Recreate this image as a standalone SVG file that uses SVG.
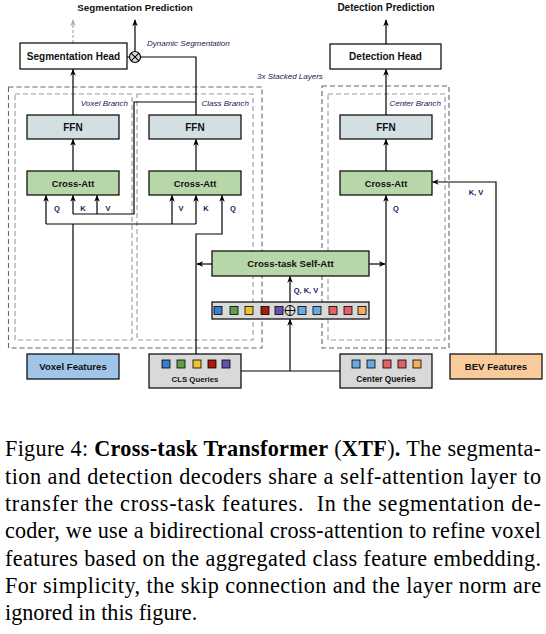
<svg xmlns="http://www.w3.org/2000/svg" width="546" height="634" viewBox="0 0 546 634">
<style>
.box{stroke:#000;stroke-width:1.2}
.ffn{fill:#d3dfe3}
.att{fill:#b7d7a8}
.gray{fill:#d9d9d9}
.t{font-family:"Liberation Sans",Arial,sans-serif;font-weight:bold;fill:#111;text-anchor:middle}
.lbl{font-family:"Liberation Sans",Arial,sans-serif;font-weight:bold;fill:#142060;font-size:7.5px;text-anchor:middle}
.it{font-family:"Liberation Sans",Arial,sans-serif;font-style:italic;fill:#1a2050;font-size:8px}
.c{fill:none;stroke:#000;stroke-width:1.2}
.ar{marker-end:url(#ah)}
.od{fill:none;stroke:#666;stroke-width:1.1;stroke-dasharray:5,3}
.id{fill:none;stroke:#9a9a9a;stroke-width:1.1;stroke-dasharray:5,3}
.cap{font-family:"Liberation Serif","Times New Roman",serif;font-size:22.2px;fill:#000}
.tok{stroke:#000;stroke-width:0.8}
</style>
<defs>
<marker id="ah" viewBox="0 0 10 8" refX="9" refY="4" markerWidth="7" markerHeight="6" markerUnits="userSpaceOnUse" orient="auto">
<path d="M0,0 L10,4 L0,8 L3,4 z" fill="#000"/>
</marker>
<marker id="ahg" viewBox="0 0 10 8" refX="9" refY="4" markerWidth="7" markerHeight="6" markerUnits="userSpaceOnUse" orient="auto">
<path d="M0,0 L10,4 L0,8 L3,4 z" fill="#aaa"/>
</marker>
</defs>

<!-- titles -->
<text class="t" x="135" y="11" font-size="9.8">Segmentation Prediction</text>
<text class="t" x="386" y="11" font-size="10">Detection Prediction</text>

<!-- dashed groups -->
<g id="stack-seg">
<rect class="od" x="8.5" y="87" width="253.5" height="261"/>
<rect class="id" x="15" y="94" width="117" height="246"/>
<rect class="id" x="137" y="94" width="116" height="246"/>
<text class="it" x="128" y="106" text-anchor="end">Voxel Branch</text>
<text class="it" x="249" y="106" text-anchor="end">Class Branch</text>
<text class="it" x="257" y="79" font-size="8.4">3x Stacked Layers</text>
</g>
<g id="stack-det">
<rect class="od" x="322" y="86" width="127" height="262"/>
<rect class="id" x="328" y="94" width="117" height="246"/>
<text class="it" x="441" y="106" text-anchor="end">Center Branch</text>
</g>

<!-- connectors -->
<g id="connectors">
<line x1="73" y1="43" x2="73" y2="20" stroke="#aaa" stroke-width="1.2" stroke-dasharray="3,2" marker-end="url(#ahg)"/>
<line class="c ar" x1="135" y1="51" x2="135" y2="20"/>
<line class="c ar" x1="386" y1="44" x2="386" y2="20"/>
<line class="c ar" x1="73" y1="115" x2="73" y2="69.5"/>
<line class="c ar" x1="73" y1="171" x2="73" y2="139.5"/>
<line class="c ar" x1="196" y1="171" x2="196" y2="139.5"/>
<path class="c" d="M196,115 V57 H141"/>
<path class="c" d="M196,102 H134 V214 H73"/>
<line class="c ar" x1="73" y1="214" x2="73" y2="195.5"/>
<line class="c ar" x1="97" y1="214" x2="97" y2="195.5"/>
<line class="c" x1="73" y1="354" x2="73" y2="224"/>
<line class="c" x1="46" y1="224" x2="196" y2="224"/>
<line class="c ar" x1="46" y1="224" x2="46" y2="195.5"/>
<line class="c ar" x1="172" y1="224" x2="172" y2="195.5"/>
<line class="c ar" x1="196" y1="224" x2="196" y2="195.5"/>
<path class="c ar" d="M196,354 V234 H222 V195.5"/>
<line class="c ar" x1="212" y1="264" x2="197" y2="264"/>
<line class="c ar" x1="369" y1="264" x2="385" y2="264"/>
<line class="c ar" x1="386" y1="171" x2="386" y2="139.5"/>
<line class="c ar" x1="386" y1="115" x2="386" y2="69.5"/>
<line class="c ar" x1="386" y1="354" x2="386" y2="195.5"/>
<path class="c ar" d="M496,354 V182 H432.5"/>
<line class="c" x1="241" y1="371" x2="340" y2="371"/>
<line class="c ar" x1="290" y1="371" x2="290" y2="319.5"/>
<line class="c ar" x1="290" y1="302" x2="290" y2="276.5"/>
<line class="c" x1="127" y1="57" x2="129" y2="57"/>
</g>

<!-- nodes -->
<g id="seg-head">
<rect class="box" x="20" y="43" width="107" height="26" fill="#fff"/>
<text class="t" x="73.5" y="60" font-size="10">Segmentation Head</text>
</g>
<g id="mult">
<circle cx="135" cy="57" r="5.5" fill="#ddd" stroke="#000" stroke-width="1.2"/>
<path d="M131.1,53.1 L138.9,60.9 M138.9,53.1 L131.1,60.9" stroke="#000" stroke-width="1.1"/>
</g>
<g id="det-head">
<rect class="box" x="330" y="44" width="111" height="25" fill="#fff"/>
<text class="t" x="385.5" y="60" font-size="10">Detection Head</text>
</g>

<g id="voxel-ffn"><rect class="box ffn" x="27" y="115" width="92" height="24"/><text class="t" x="73" y="130.5" font-size="10">FFN</text></g>
<g id="class-ffn"><rect class="box ffn" x="149" y="115" width="92" height="24"/><text class="t" x="195" y="130.5" font-size="10">FFN</text></g>
<g id="center-ffn"><rect class="box ffn" x="340" y="115" width="92" height="24"/><text class="t" x="386" y="130.5" font-size="10">FFN</text></g>

<g id="voxel-att"><rect class="box att" x="27" y="171" width="92" height="24"/><text class="t" x="73" y="186.5" font-size="9.4">Cross-Att</text></g>
<g id="class-att"><rect class="box att" x="149" y="171" width="92" height="24"/><text class="t" x="195" y="186.5" font-size="9.4">Cross-Att</text></g>
<g id="center-att"><rect class="box att" x="340" y="171" width="92" height="24"/><text class="t" x="386" y="186.5" font-size="9.4">Cross-Att</text></g>

<g id="labels">
<text class="lbl" x="57" y="211">Q</text>
<text class="lbl" x="83" y="211">K</text>
<text class="lbl" x="108" y="211">V</text>
<text class="lbl" x="181" y="211">V</text>
<text class="lbl" x="206" y="211">K</text>
<text class="lbl" x="233" y="211">Q</text>
<text class="lbl" x="396" y="211">Q</text>
<text class="lbl" x="476" y="195">K, V</text>
<text class="lbl" x="306" y="293">Q, K, V</text>
<text class="it" x="147" y="46">Dynamic Segmentation</text>
</g>

<g id="self-att"><rect class="box att" x="212" y="251" width="157" height="25"/><text class="t" x="290.5" y="267" font-size="9.6">Cross-task Self-Att</text></g>

<g id="token-bar">
<rect class="box gray" x="212" y="302" width="157" height="17"/>
<rect class="tok" x="214" y="306.5" width="8" height="8" fill="#3a7dc9"/>
<rect class="tok" x="230" y="306.5" width="8" height="8" fill="#5ea04a"/>
<rect class="tok" x="245" y="306.5" width="8" height="8" fill="#f2c12e"/>
<rect class="tok" x="261" y="306.5" width="8" height="8" fill="#a81c08"/>
<rect class="tok" x="275" y="306.5" width="8" height="8" fill="#6a4fae"/>
<circle cx="290" cy="310.5" r="5" fill="#ddd" stroke="#000" stroke-width="1"/>
<path d="M285,310.5 H295 M290,305.5 V315.5" stroke="#000" stroke-width="1"/>
<rect class="tok" x="298" y="306.5" width="8" height="8" fill="#6aa9df"/>
<rect class="tok" x="313" y="306.5" width="8" height="8" fill="#6aa9df"/>
<rect class="tok" x="329" y="306.5" width="8" height="8" fill="#e06262"/>
<rect class="tok" x="344" y="306.5" width="8" height="8" fill="#e06262"/>
<rect class="tok" x="358" y="306.5" width="8" height="8" fill="#f5ae5a"/>
</g>

<g id="voxel-features"><rect class="box" x="27" y="354" width="92" height="25" fill="#9fc5e8"/><text class="t" x="73" y="370" font-size="9.6">Voxel Features</text></g>
<g id="cls-queries">
<rect class="box gray" x="149" y="354" width="92" height="34"/>
<rect class="tok" x="162" y="360" width="8" height="8" fill="#3a7dc9"/>
<rect class="tok" x="177" y="360" width="8" height="8" fill="#5ea04a"/>
<rect class="tok" x="193" y="360" width="8" height="8" fill="#f2c12e"/>
<rect class="tok" x="208" y="360" width="8" height="8" fill="#a81c08"/>
<rect class="tok" x="222" y="360" width="8" height="8" fill="#6a4fae"/>
<text class="t" x="195" y="381.5" font-size="7.8">CLS Queries</text>
</g>
<g id="center-queries">
<rect class="box gray" x="340" y="354" width="92" height="34"/>
<rect class="tok" x="352" y="360" width="8" height="8" fill="#6aa9df"/>
<rect class="tok" x="367" y="360" width="8" height="8" fill="#6aa9df"/>
<rect class="tok" x="383" y="360" width="8" height="8" fill="#e06262"/>
<rect class="tok" x="398" y="360" width="8" height="8" fill="#e06262"/>
<rect class="tok" x="413" y="360" width="8" height="8" fill="#f5ae5a"/>
<text class="t" x="386" y="381.5" font-size="8.3">Center Queries</text>
</g>
<g id="bev-features"><rect class="box" x="450" y="354" width="92" height="25" fill="#f9cb9c"/><text class="t" x="496" y="370" font-size="9.6">BEV Features</text></g>

<!-- caption -->
<g id="caption">
<text class="cap" x="5" y="456" textLength="536" lengthAdjust="spacing">Figure 4: <tspan font-weight="bold">Cross-task Transformer</tspan> (<tspan font-weight="bold">XTF</tspan>)<tspan font-weight="bold">.</tspan> The segmenta-</text>
<text class="cap" x="5" y="483.5" textLength="536" lengthAdjust="spacing">tion and detection decoders share a self-attention layer to</text>
<text class="cap" x="5" y="511" textLength="536" lengthAdjust="spacing">transfer the cross-task features.&#160; In the segmentation de-</text>
<text class="cap" x="5" y="538" textLength="536" lengthAdjust="spacing">coder, we use a bidirectional cross-attention to refine voxel</text>
<text class="cap" x="5" y="565.5" textLength="536" lengthAdjust="spacing">features based on the aggregated class feature embedding.</text>
<text class="cap" x="5" y="593" textLength="536" lengthAdjust="spacing">For simplicity, the skip connection and the layer norm are</text>
<text class="cap" x="5" y="620">ignored in this figure.</text>
</g>
</svg>
